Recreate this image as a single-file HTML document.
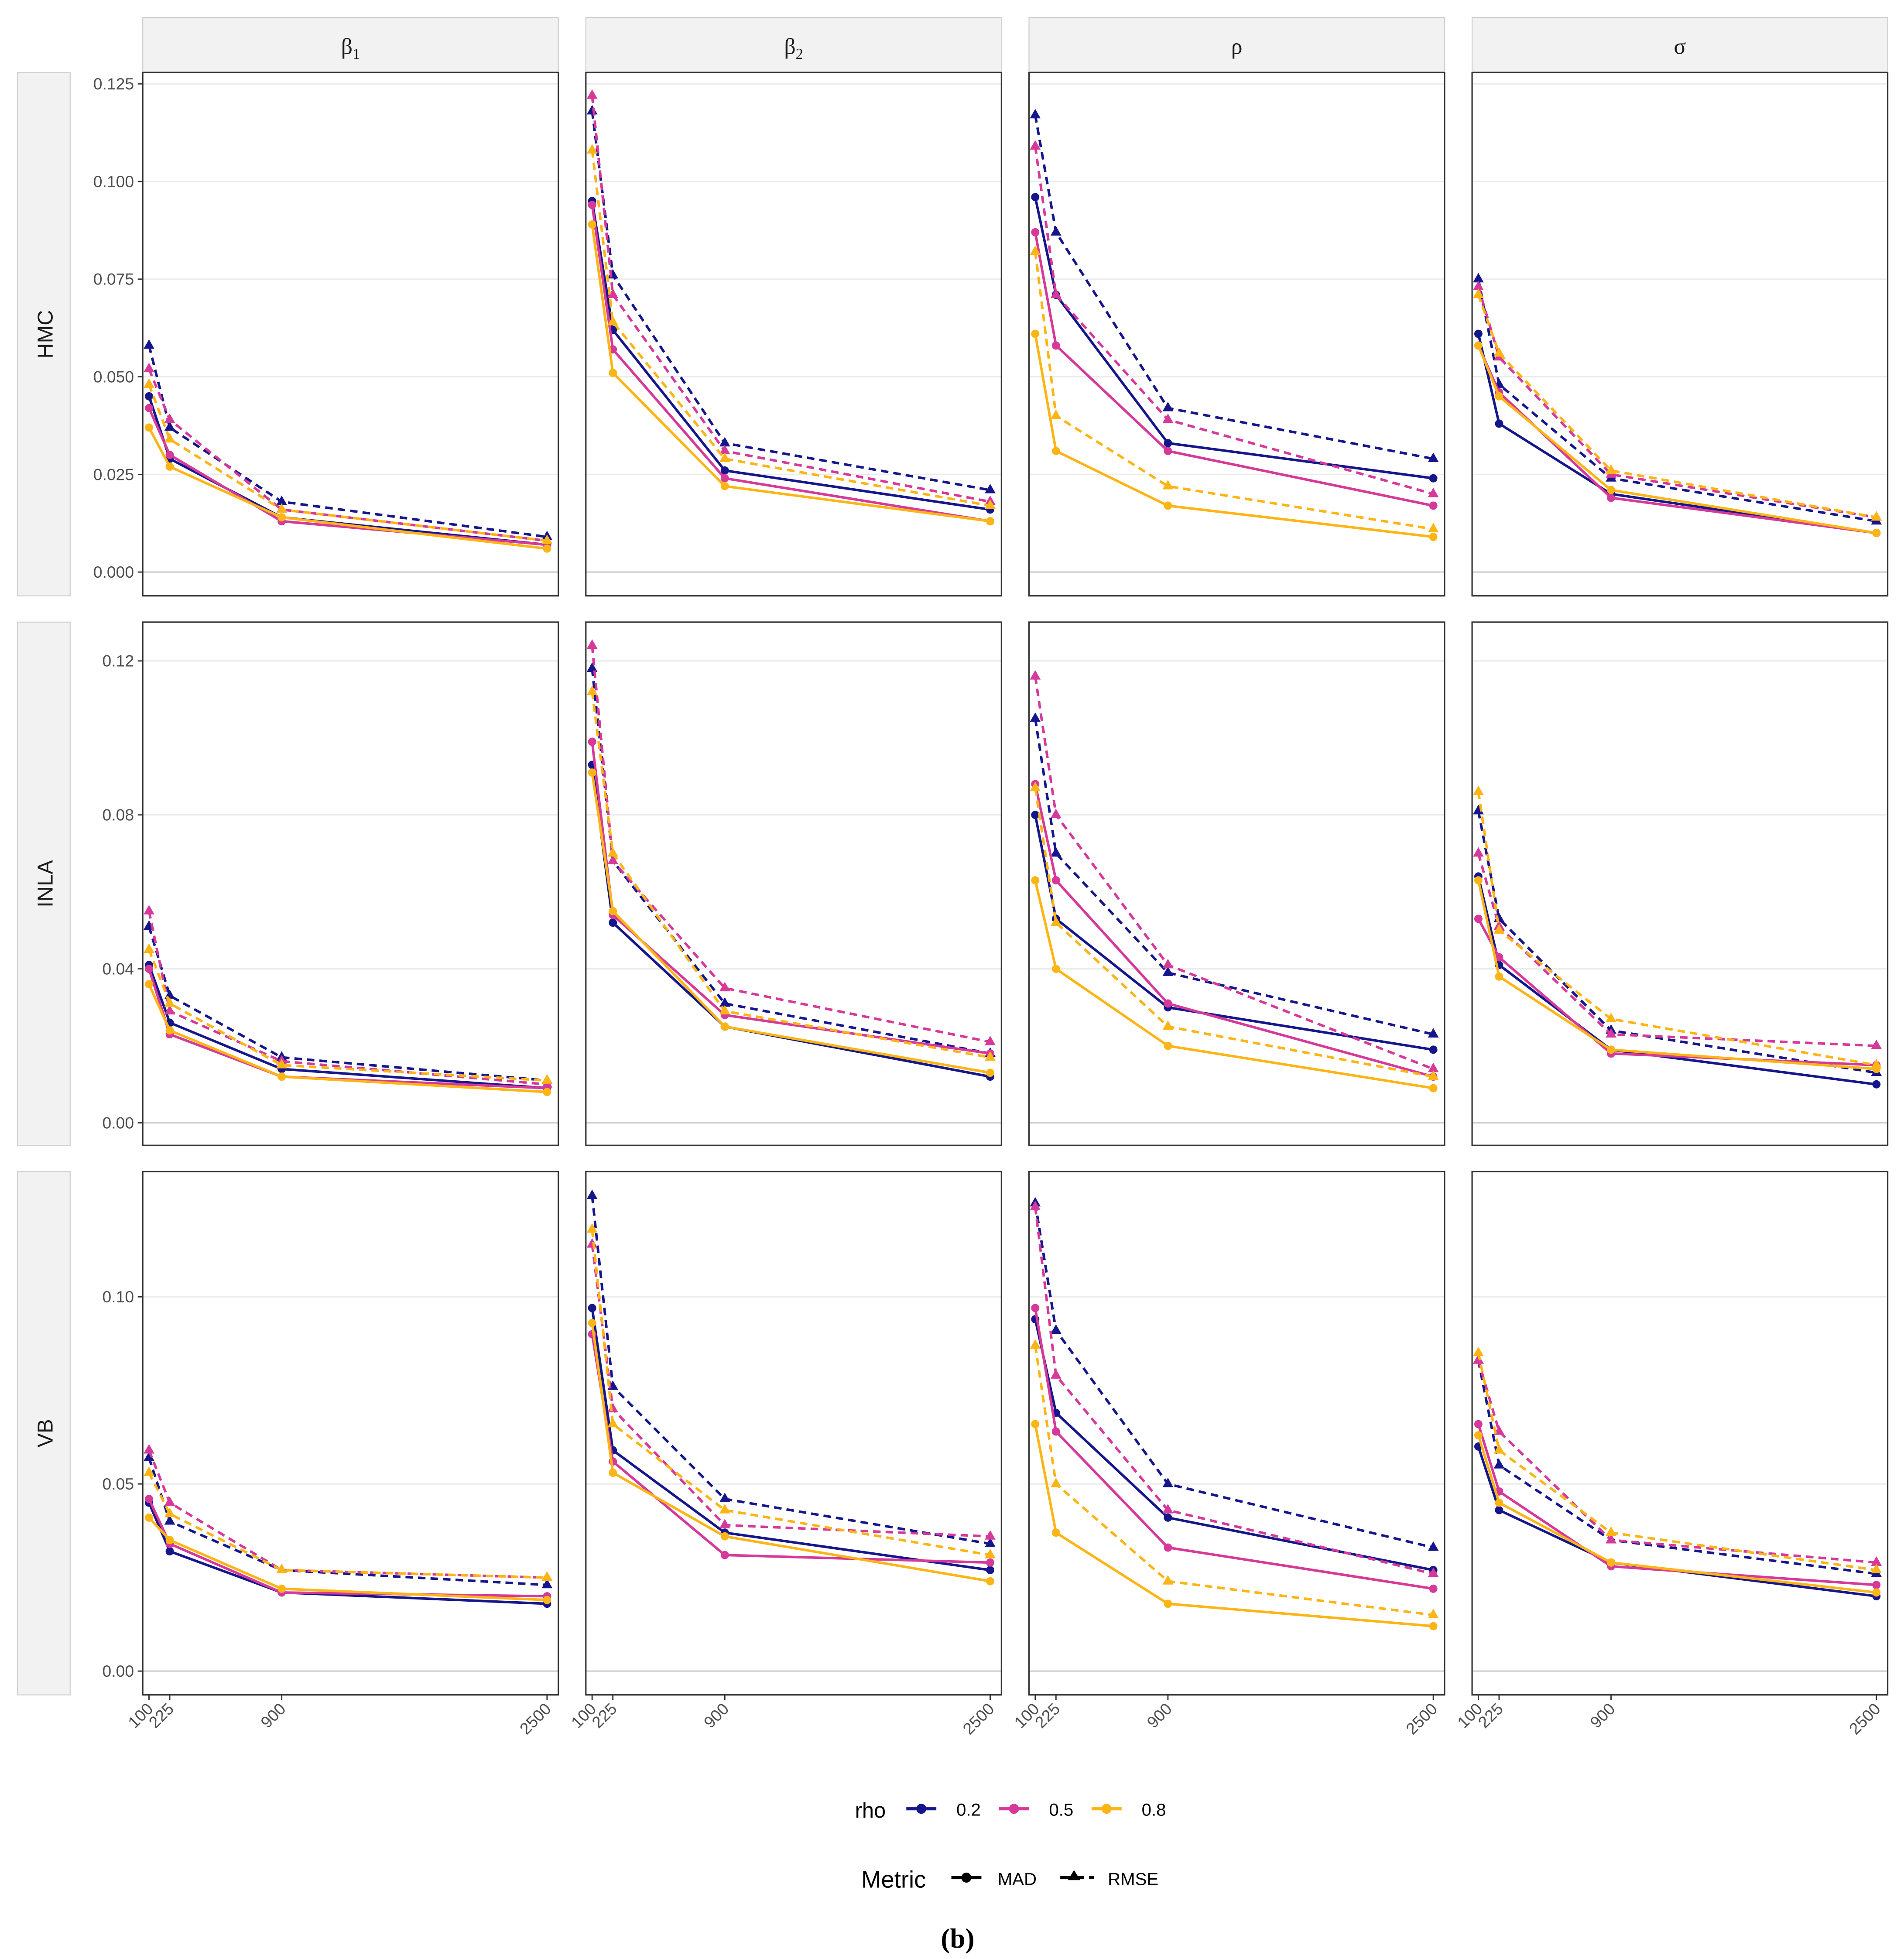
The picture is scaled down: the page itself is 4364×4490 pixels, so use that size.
<!DOCTYPE html>
<html><head><meta charset="utf-8"><style>
html,body{margin:0;padding:0;background:#fff}
svg{display:block}
text{font-family:"Liberation Sans",sans-serif}
</style></head><body>
<svg id="chart" width="4364" height="4490" viewBox="0 0 1521 1565" xmlns="http://www.w3.org/2000/svg"></svg>
<script>
const nValues=[100,225,900,2500];
const rhoLevels=['0.2','0.5','0.8'];
const colNames=['β1','β2','ρ','σ'];
const rowNames=['HMC','INLA','VB'];
const madHMC=[[[0.045,0.029,0.014,0.007],[0.042,0.030,0.013,0.007],[0.037,0.027,0.014,0.006]],
[[0.095,0.062,0.026,0.016],[0.094,0.057,0.024,0.013],[0.089,0.051,0.022,0.013]],
[[0.096,0.071,0.033,0.024],[0.087,0.058,0.031,0.017],[0.061,0.031,0.017,0.009]],
[[0.061,0.038,0.020,0.010],[0.058,0.046,0.019,0.010],[0.058,0.045,0.021,0.010]]];
const rmseHMC=[[[0.058,0.037,0.018,0.009],[0.052,0.039,0.016,0.008],[0.048,0.034,0.016,0.008]],
[[0.118,0.076,0.033,0.021],[0.122,0.071,0.031,0.018],[0.108,0.064,0.029,0.017]],
[[0.117,0.087,0.042,0.029],[0.109,0.071,0.039,0.020],[0.082,0.040,0.022,0.011]],
[[0.075,0.048,0.024,0.013],[0.073,0.055,0.025,0.014],[0.071,0.056,0.026,0.014]]];
const madINLA=[[[0.041,0.026,0.014,0.009],[0.040,0.023,0.012,0.009],[0.036,0.024,0.012,0.008]],
[[0.093,0.052,0.025,0.012],[0.099,0.054,0.028,0.018],[0.091,0.055,0.025,0.013]],
[[0.080,0.053,0.030,0.019],[0.088,0.063,0.031,0.012],[0.063,0.040,0.020,0.009]],
[[0.064,0.041,0.019,0.010],[0.053,0.043,0.018,0.015],[0.063,0.038,0.019,0.014]]];
const rmseINLA=[[[0.051,0.033,0.017,0.011],[0.055,0.029,0.016,0.010],[0.045,0.031,0.015,0.011]],
[[0.118,0.068,0.031,0.018],[0.124,0.068,0.035,0.021],[0.112,0.070,0.029,0.017]],
[[0.105,0.070,0.039,0.023],[0.116,0.080,0.041,0.014],[0.087,0.052,0.025,0.012]],
[[0.081,0.053,0.024,0.013],[0.070,0.051,0.023,0.020],[0.086,0.050,0.027,0.015]]];
const madVB=[[[0.045,0.032,0.021,0.018],[0.046,0.034,0.021,0.020],[0.041,0.035,0.022,0.019]],
[[0.097,0.059,0.037,0.027],[0.090,0.056,0.031,0.029],[0.093,0.053,0.036,0.024]],
[[0.094,0.069,0.041,0.027],[0.097,0.064,0.033,0.022],[0.066,0.037,0.018,0.012]],
[[0.060,0.043,0.029,0.020],[0.066,0.048,0.028,0.023],[0.063,0.045,0.029,0.021]]];
const rmseVB=[[[0.057,0.040,0.027,0.023],[0.059,0.045,0.027,0.025],[0.053,0.042,0.027,0.025]],
[[0.127,0.076,0.046,0.034],[0.114,0.070,0.039,0.036],[0.118,0.066,0.043,0.031]],
[[0.125,0.091,0.050,0.033],[0.124,0.079,0.043,0.026],[0.087,0.050,0.024,0.015]],
[[0.083,0.055,0.035,0.026],[0.083,0.064,0.035,0.029],[0.085,0.059,0.037,0.027]]];
const yTicksHMC=[0,0.025,0.05,0.075,0.1,0.125];
const yTickLabelsHMC=['0.000','0.025','0.050','0.075','0.100','0.125'];
const yTicksINLA=[0,0.04,0.08,0.12];
const yTickLabelsINLA=['0.00','0.04','0.08','0.12'];
const yTicksVB=[0,0.05,0.10];
const yTickLabelsVB=['0.00','0.05','0.10'];

const MAD=[madHMC,madINLA,madVB], RMSE=[rmseHMC,rmseINLA,rmseVB];
const YT=[yTicksHMC,yTicksINLA,yTicksVB], YL=[yTickLabelsHMC,yTickLabelsINLA,yTickLabelsVB];
const colors=['#16168c','#d6399a','#fdb515'];
const NS='http://www.w3.org/2000/svg';
const svg=document.getElementById('chart');
function el(tag,attrs,parent){const e=document.createElementNS(NS,tag);for(const k in attrs)e.setAttribute(k,attrs[k]);(parent||svg).appendChild(e);return e;}
const colX=[114,468,822,1176], panelW=332;
const rowY=[58,497,936], panelH=418;
const yZero=[457,897,1335], yK=[78/0.025,123/0.04,149.5/0.05];
function xScale(c,n){return colX[c]+5+(n-100)/2400*318;}
function yScale(r,v){return yZero[r]-v*yK[r];}

for(let c=0;c<4;c++){
  const g=el('g',{});
  
  
  el('rect',{x:colX[c],y:14,width:panelW,height:43,fill:'#f2f2f2',stroke:'#d0d0d0','stroke-width':0.8},g);
  const t=el('text',{x:colX[c]+panelW/2,y:43,'text-anchor':'middle','font-size':18,fill:'#1a1a1a',style:'font-family:"Liberation Serif",serif'},g);
  if(c<2){t.textContent='β';const s=el('tspan',{'font-size':12,dy:4},t);s.textContent=String(c+1);}
  else t.textContent=colNames[c];
}
for(let r=0;r<3;r++){
  const g=el('g',{});
  
  
  el('rect',{x:14,y:rowY[r],width:42,height:panelH,fill:'#f2f2f2',stroke:'#d0d0d0','stroke-width':0.8},g);
  const cy=rowY[r]+panelH/2;
  const t=el('text',{x:42,y:cy,'text-anchor':'middle','font-size':17,fill:'#1a1a1a',transform:`rotate(-90 42 ${cy})`},g);
  t.textContent=rowNames[r];
  const ya=el('g',{});
  
  
  YT[r].forEach((v,i)=>{
    const y=yScale(r,v);
    el('line',{x1:110,x2:114,y1:y,y2:y,stroke:'#333','stroke-width':1},ya);
    const tt=el('text',{x:107,y:y+4.5,'text-anchor':'end','font-size':13,fill:'#4d4d4d'},ya);
    tt.textContent=YL[r][i];
  });
}
for(let r=0;r<3;r++)for(let c=0;c<4;c++){
  const g=el('g',{});
  
  
  const clipId='cp'+r+c;
  const cp=el('clipPath',{id:clipId},g);el('rect',{x:colX[c],y:rowY[r],width:panelW,height:panelH},cp);
  el('rect',{x:colX[c],y:rowY[r],width:panelW,height:panelH,fill:'#fff'},g);
  const tk=YT[r];
  for(let i=0;i<tk.length;i++){
    const y=yScale(r,tk[i]);
    el('line',{x1:colX[c],x2:colX[c]+panelW,y1:y,y2:y,stroke:i==0?'#cfcfcf':'#ebebeb','stroke-width':1.1},g);
  }
  for(let rho=0;rho<3;rho++){
    [MAD[r][c][rho],RMSE[r][c][rho]].forEach((vals,m)=>{
      const pts=vals.map((v,i)=>xScale(c,nValues[i]).toFixed(1)+','+yScale(r,v).toFixed(1)).join(' ');
      const pl=el('polyline',{points:pts,fill:'none',stroke:colors[rho],'stroke-width':2,'clip-path':`url(#${clipId})`},g);
      
      
      if(m)pl.setAttribute('stroke-dasharray','6,4');
      vals.forEach((v,i)=>{
        const x=xScale(c,nValues[i]),y=yScale(r,v);
        let p;
        if(m)p=el('polygon',{points:`${x},${y-5} ${x-4.3},${y+2.6} ${x+4.3},${y+2.6}`,fill:colors[rho]},g);
        else p=el('circle',{cx:x,cy:y,r:3.3,fill:colors[rho]},g);
        
        
      });
    });
  }
  el('rect',{x:colX[c],y:rowY[r],width:panelW,height:panelH,fill:'none',stroke:'#333','stroke-width':1.1},g);
}
for(let c=0;c<4;c++){
  const g=el('g',{});
  
  
  nValues.forEach(n=>{
    const x=xScale(c,n);
    el('line',{x1:x,x2:x,y1:1354,y2:1358,stroke:'#333','stroke-width':1},g);
    const t=el('text',{x:x+4,y:1366,'text-anchor':'end','font-size':13,fill:'#4d4d4d',transform:`rotate(-45 ${x+4} 1366)`},g);
    t.textContent=String(n);
  });
}
const lg=el('g',{});


el('text',{x:683,y:1452,'font-size':17,fill:'#000'},lg).textContent='rho';
const lx=[724,798,872];
rhoLevels.forEach((lab,i)=>{
  const e=el('g',{},lg);
  
  
  el('line',{x1:lx[i],x2:lx[i]+24,y1:1445,y2:1445,stroke:colors[i],'stroke-width':2.5},e);
  el('circle',{cx:lx[i]+12,cy:1445,r:4,fill:colors[i]},e);
  el('text',{x:lx[i]+40,y:1450.5,'font-size':14,fill:'#000'},e).textContent=lab;
});
const lm=el('g',{});


el('text',{x:688,y:1508,'font-size':19,fill:'#000'},lm).textContent='Metric';
el('line',{x1:760,x2:784,y1:1500,y2:1500,stroke:'#000','stroke-width':2.5},lm);
el('circle',{cx:772,cy:1500,r:4,fill:'#000'},lm);
el('text',{x:797,y:1506,'font-size':14,fill:'#000'},lm).textContent='MAD';
el('line',{x1:847,x2:866,y1:1500,y2:1500,stroke:'#000','stroke-width':2.5},lm);
el('line',{x1:870,x2:874,y1:1500,y2:1500,stroke:'#000','stroke-width':2.5},lm);
el('polygon',{points:'858,1494 853,1502 863,1502',fill:'#000'},lm);
el('text',{x:885,y:1506,'font-size':14,fill:'#000'},lm).textContent='RMSE';
const cap=el('text',{x:765,y:1556,'text-anchor':'middle','font-size':22,'font-weight':'bold',fill:'#000',style:'font-family:"Liberation Serif",serif'});


cap.textContent='(b)';
</script>
</body></html>
